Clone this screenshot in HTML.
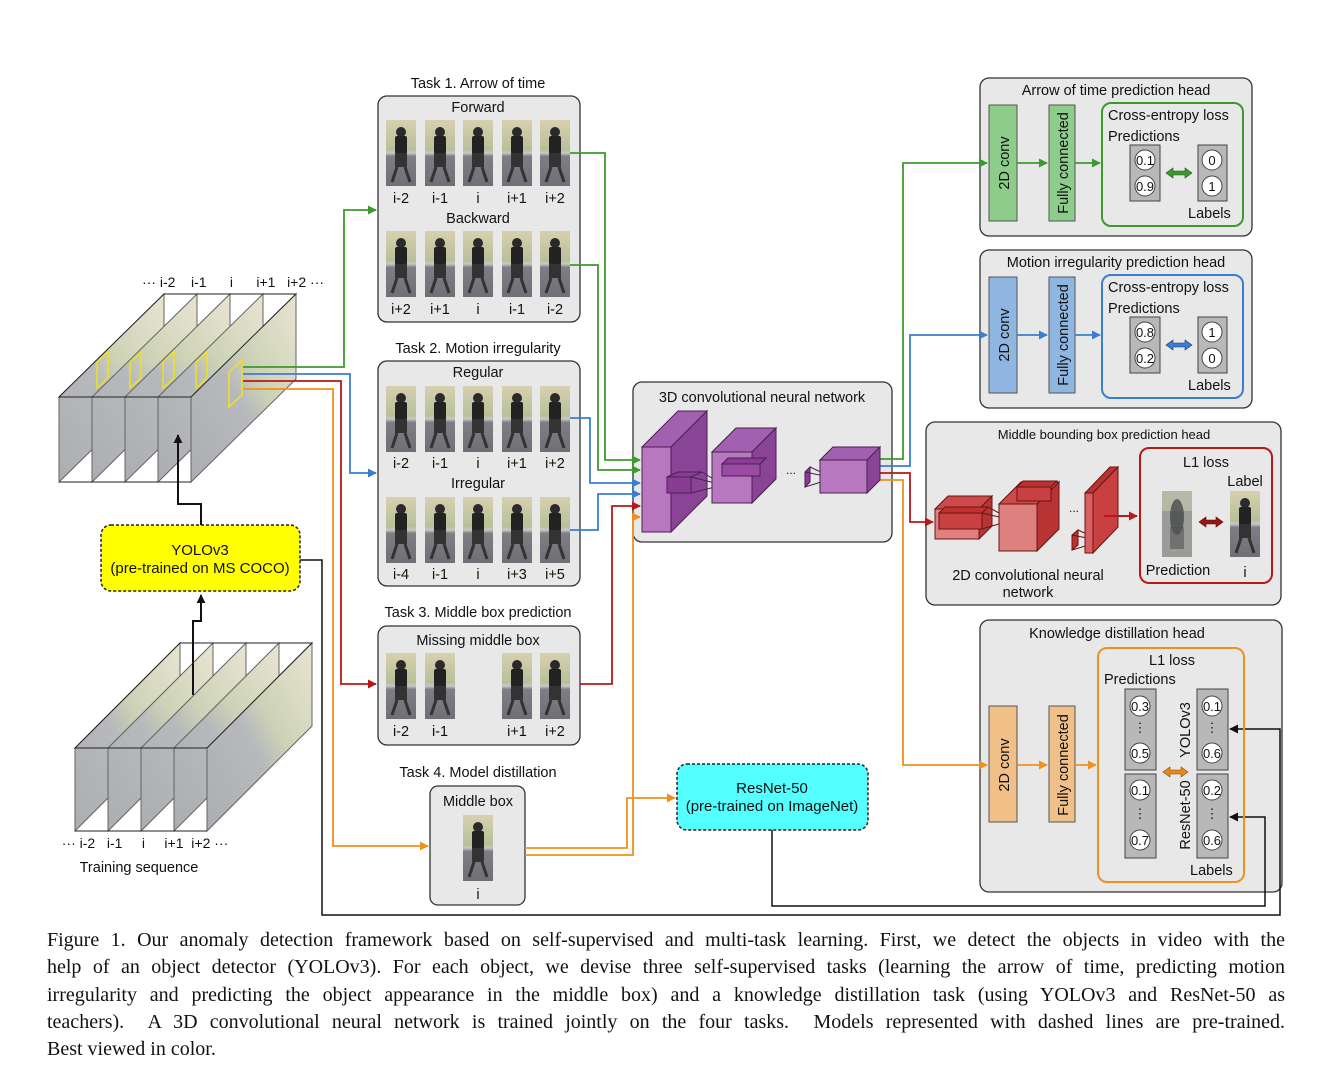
<!DOCTYPE html>
<html><head><meta charset="utf-8"><style>
body{margin:0;background:#fff}
svg{display:block}
text{font-family:"Liberation Sans",sans-serif;fill:#111}
.cap{font-family:"Liberation Serif",serif;font-size:20px;position:absolute;left:47px;width:1238px;line-height:27.3px;color:#111;white-space:nowrap}
.cap div{text-align:justify;text-align-last:justify;white-space:normal}
.cap div.l{text-align-last:left}
</style></head><body>
<div style="position:relative;width:1318px;height:1068px;overflow:hidden">
<svg width="1318" height="1068" viewBox="0 0 1318 1068">
<defs>
<linearGradient id="fg" x1="0" y1="0" x2="0" y2="1">
<stop offset="0" stop-color="#d8d0b0"/><stop offset="0.45" stop-color="#b8c098"/><stop offset="0.5" stop-color="#c8c8c8"/><stop offset="0.55" stop-color="#7d7f85"/><stop offset="1" stop-color="#6e7076"/></linearGradient>
<g id="fr"><rect width="30" height="66" fill="url(#fg)"/><circle cx="15" cy="12" r="5" fill="#2a2a2a"/><rect x="9" y="16" width="12" height="18" rx="2" fill="#222"/><rect x="9" y="33" width="12" height="14" fill="#333"/><path d="M11 47 L6 62 M19 47 L24 62" stroke="#333" stroke-width="3"/></g>
<g id="frb"><rect width="30" height="66" fill="#9a9c98"/><rect width="30" height="20" fill="#b8b8a8"/><ellipse cx="15" cy="26" rx="7" ry="18" fill="#3a3c40" opacity="0.7"/><rect x="8" y="36" width="14" height="22" fill="#555" opacity="0.6"/></g>
<linearGradient id="sg" x1="0" y1="1" x2="1" y2="0"><stop offset="0" stop-color="#8a8c92"/><stop offset="0.45" stop-color="#9a9ca0"/><stop offset="0.6" stop-color="#b8c098"/><stop offset="1" stop-color="#e0dac0"/></linearGradient>
<marker id="aG" viewBox="0 0 10 10" refX="9" refY="5" markerWidth="9" markerHeight="9" markerUnits="userSpaceOnUse" orient="auto"><path d="M0 0L10 5L0 10z" fill="#3c9a2c"/></marker>
<marker id="aB" viewBox="0 0 10 10" refX="9" refY="5" markerWidth="9" markerHeight="9" markerUnits="userSpaceOnUse" orient="auto"><path d="M0 0L10 5L0 10z" fill="#3a7fcf"/></marker>
<marker id="aR" viewBox="0 0 10 10" refX="9" refY="5" markerWidth="9" markerHeight="9" markerUnits="userSpaceOnUse" orient="auto"><path d="M0 0L10 5L0 10z" fill="#b81818"/></marker>
<marker id="aO" viewBox="0 0 10 10" refX="9" refY="5" markerWidth="9" markerHeight="9" markerUnits="userSpaceOnUse" orient="auto"><path d="M0 0L10 5L0 10z" fill="#f0901e"/></marker>
<marker id="aK" viewBox="0 0 10 10" refX="9" refY="5" markerWidth="9" markerHeight="9" markerUnits="userSpaceOnUse" orient="auto"><path d="M0 0L10 5L0 10z" fill="#111"/></marker>
</defs>

<!-- top stack -->
<g stroke="#222" stroke-width="1">
<polygon points="59,397 164,294 296,294 191,397" fill="none"/>
<g fill="url(#sg)" opacity="0.7">
<polygon points="59,397 164,294 164,379 59,482"/>
<polygon points="92,397 197,294 197,379 92,482"/>
<polygon points="125,397 230,294 230,379 125,482"/>
<polygon points="158,397 263,294 263,379 158,482"/>
<polygon points="191,397 296,294 296,379 191,482"/>
</g>
<line x1="59" y1="397" x2="191" y2="397"/><line x1="59" y1="482" x2="191" y2="482"/>
<line x1="164" y1="294" x2="296" y2="294"/>
</g>
<g fill="none" stroke="#f0e020" stroke-width="1.5">
<polygon points="97,362 108,352 108,378 97,388"/><polygon points="130,362 141,352 141,378 130,388"/><polygon points="163,362 174,352 174,378 163,388"/><polygon points="196,362 207,352 207,378 196,388"/><polygon points="229,372 242,360 242,395 229,407"/>
</g>
<text x="233" y="287" font-size="14" text-anchor="middle">··· i-2&#160;&#160;&#160; i-1&#160;&#160;&#160;&#160;&#160; i&#160;&#160;&#160;&#160;&#160; i+1&#160;&#160; i+2 ···</text>

<!-- bottom stack -->
<g stroke="#222" stroke-width="1">
<polygon points="75,748 180,643 312,643 207,748" fill="none"/>
<g fill="url(#sg)" opacity="0.7">
<polygon points="75,748 180,643 180,726 75,831"/>
<polygon points="108,748 213,643 213,726 108,831"/>
<polygon points="141,748 246,643 246,726 141,831"/>
<polygon points="174,748 279,643 279,726 174,831"/>
<polygon points="207,748 312,643 312,726 207,831"/>
</g>
<line x1="75" y1="748" x2="207" y2="748"/><line x1="75" y1="831" x2="207" y2="831"/>
<line x1="180" y1="643" x2="312" y2="643"/>
</g>
<text x="145" y="848" font-size="14" text-anchor="middle">··· i-2&#160;&#160; i-1&#160;&#160;&#160;&#160; i&#160;&#160;&#160;&#160; i+1&#160; i+2 ···</text>
<text x="139" y="872" font-size="14.5" text-anchor="middle">Training sequence</text>

<!-- yolo -->
<rect x="101" y="525" width="199" height="66" rx="10" fill="#ffff00" stroke="#222" stroke-width="1.5" stroke-dasharray="3,2"/>
<text x="200" y="555" font-size="15" text-anchor="middle">YOLOv3</text>
<text x="200" y="573" font-size="15" text-anchor="middle">(pre-trained on MS COCO)</text>
<path d="M193 695 V621 H201 V595" fill="none" stroke="#111" stroke-width="2" marker-end="url(#aK)"/>
<path d="M201 525 V504 H178 V435" fill="none" stroke="#111" stroke-width="2" marker-end="url(#aK)"/>

<!-- resnet -->
<rect x="677" y="764" width="191" height="66" rx="10" fill="#55ffff" stroke="#222" stroke-width="1.5" stroke-dasharray="3,2"/>
<text x="772" y="793" font-size="15" text-anchor="middle">ResNet-50</text>
<text x="772" y="811" font-size="15" text-anchor="middle">(pre-trained on ImageNet)</text>

<!-- task boxes -->
<g font-size="14.5" text-anchor="middle">
<text x="478" y="88">Task 1. Arrow of time</text>
<text x="478" y="353">Task 2. Motion irregularity</text>
<text x="478" y="617">Task 3. Middle box prediction</text>
<text x="478" y="777">Task 4. Model distillation</text>
</g>
<g fill="#e8e8e8" stroke="#333" stroke-width="1.3">
<rect x="378" y="96" width="202" height="226" rx="9"/>
<rect x="378" y="361" width="202" height="225" rx="9"/>
<rect x="378" y="626" width="202" height="119" rx="9"/>
<rect x="430" y="786" width="95" height="119" rx="8"/>
<rect x="633" y="382" width="259" height="160" rx="9"/>
<rect x="980" y="78" width="272" height="158" rx="9"/>
<rect x="980" y="250" width="272" height="158" rx="9"/>
<rect x="926" y="422" width="355" height="183" rx="9"/>
<rect x="980" y="620" width="302" height="272" rx="9"/>
</g>
<path d="M300 560 H322 V915 H1280 V729 H1230" fill="none" stroke="#111" stroke-width="1.5" marker-end="url(#aK)"/>
<path d="M772 830 V906 H1265 V817 H1230" fill="none" stroke="#111" stroke-width="1.5" marker-end="url(#aK)"/>
<g font-size="14.5" text-anchor="middle">
<text x="478" y="112">Forward</text><text x="478" y="223">Backward</text>
<text x="478" y="377">Regular</text><text x="478" y="488">Irregular</text>
<text x="478" y="645">Missing middle box</text><text x="478" y="806">Middle box</text>
</g>
<g>
<use href="#fr" x="386" y="120"/><use href="#fr" x="425" y="120"/><use href="#fr" x="463" y="120"/><use href="#fr" x="502" y="120"/><use href="#fr" x="540" y="120"/>
<use href="#fr" x="386" y="231"/><use href="#fr" x="425" y="231"/><use href="#fr" x="463" y="231"/><use href="#fr" x="502" y="231"/><use href="#fr" x="540" y="231"/>
<use href="#fr" x="386" y="386"/><use href="#fr" x="425" y="386"/><use href="#fr" x="463" y="386"/><use href="#fr" x="502" y="386"/><use href="#fr" x="540" y="386"/>
<use href="#fr" x="386" y="497"/><use href="#fr" x="425" y="497"/><use href="#fr" x="463" y="497"/><use href="#fr" x="502" y="497"/><use href="#fr" x="540" y="497"/>
<use href="#fr" x="386" y="653"/><use href="#fr" x="425" y="653"/><use href="#fr" x="502" y="653"/><use href="#fr" x="540" y="653"/>
<use href="#fr" x="463" y="815"/>
<use href="#frb" x="1162" y="491"/><use href="#fr" x="1230" y="491"/>
</g>
<g font-size="14.5" text-anchor="middle">
<text x="401" y="203">i-2</text><text x="440" y="203">i-1</text><text x="478" y="203">i</text><text x="517" y="203">i+1</text><text x="555" y="203">i+2</text>
<text x="401" y="314">i+2</text><text x="440" y="314">i+1</text><text x="478" y="314">i</text><text x="517" y="314">i-1</text><text x="555" y="314">i-2</text>
<text x="401" y="468">i-2</text><text x="440" y="468">i-1</text><text x="478" y="468">i</text><text x="517" y="468">i+1</text><text x="555" y="468">i+2</text>
<text x="401" y="579">i-4</text><text x="440" y="579">i-1</text><text x="478" y="579">i</text><text x="517" y="579">i+3</text><text x="555" y="579">i+5</text>
<text x="401" y="736">i-2</text><text x="440" y="736">i-1</text><text x="517" y="736">i+1</text><text x="555" y="736">i+2</text>
<text x="478" y="899">i</text>
</g>

<!-- connectors -->
<g fill="none" stroke-width="1.8">
<path d="M243 367 H344 V210 H376" stroke="#3c9a2c" marker-end="url(#aG)"/>
<path d="M243 374 H350 V473 H376" stroke="#3a7fcf" marker-end="url(#aB)"/>
<path d="M243 381 H341 V684 H376" stroke="#b81818" marker-end="url(#aR)"/>
<path d="M243 389 H333 V846 H428" stroke="#f0901e" marker-end="url(#aO)"/>
<path d="M570 153 H605 V460 H640" stroke="#3c9a2c" marker-end="url(#aG)"/>
<path d="M570 265 H598 V470 H640" stroke="#3c9a2c" marker-end="url(#aG)"/>
<path d="M570 418 H590 V483 H640" stroke="#3a7fcf" marker-end="url(#aB)"/>
<path d="M570 530 H598 V494 H640" stroke="#3a7fcf" marker-end="url(#aB)"/>
<path d="M580 684 H612 V506 H640" stroke="#b81818" marker-end="url(#aR)"/>
<path d="M525 855 H633 V517 H640" stroke="#f0901e" marker-end="url(#aO)"/>
<path d="M525 848 H627 V798 H675" stroke="#f0901e" marker-end="url(#aO)"/>
<path d="M876 459 H903 V163 H987" stroke="#3c9a2c" marker-end="url(#aG)"/>
<path d="M876 466 H910 V335 H987" stroke="#3a7fcf" marker-end="url(#aB)"/>
<path d="M876 473 H910 V522 H933" stroke="#b81818" marker-end="url(#aR)"/>
<path d="M876 480 H903 V765 H987" stroke="#f0901e" marker-end="url(#aO)"/>
</g>

<!-- 3D cnn -->
<text x="762" y="402" font-size="14.5" text-anchor="middle">3D convolutional neural network</text>
<g stroke="#4a2050" stroke-width="1">
<polygon points="642,447 678,411 707,411 671,447" fill="#a460b0"/>
<polygon points="671,447 707,411 707,496 671,532" fill="#8a4496"/>
<rect x="642" y="447" width="29" height="85" fill="#b878c0"/>
<polygon points="667,477 678,472 702,472 691,477" fill="#8a3c94"/>
<rect x="667" y="477" width="24" height="16" fill="#8a3c94"/>
<path d="M691 477 L723 485 M691 493 L723 485 M702 472 L723 485" fill="none"/>
<polygon points="712,452 736,428 776,428 752,452" fill="#a460b0"/>
<polygon points="752,452 776,428 776,479 752,503" fill="#8a4496"/>
<rect x="712" y="452" width="40" height="51" fill="#b878c0"/>
<polygon points="722,464 728,458 766,458 760,464" fill="#8a3c94"/><rect x="722" y="464" width="38" height="12" fill="#9a4ca4"/>
<text x="791" y="474" font-size="12" text-anchor="middle" stroke="none">...</text>
<polygon points="805,472 810,467 810,482 805,487" fill="#8a3c94"/>
<path d="M805 472 L834 478 M805 487 L834 478 M810 467 L834 478" fill="none"/>
<polygon points="820,460 833,447 880,447 867,460" fill="#a460b0"/>
<polygon points="867,460 880,447 880,480 867,493" fill="#8a4496"/>
<rect x="820" y="460" width="47" height="33" fill="#b878c0"/>
</g>

<!-- arrow of time head -->
<g font-size="14.5" text-anchor="middle"><text x="1116" y="95">Arrow of time prediction head</text><text x="1116" y="267">Motion irregularity prediction head</text></g>
<g>
<rect x="989" y="105" width="28" height="116" fill="#8dcc8a" stroke="#555"/>
<rect x="1049" y="105" width="26" height="116" fill="#8dcc8a" stroke="#555"/>
<rect x="1102" y="103" width="141" height="123" rx="9" fill="none" stroke="#3c9a2c" stroke-width="2"/>
<rect x="989" y="277" width="28" height="116" fill="#8fb6e0" stroke="#555"/>
<rect x="1049" y="277" width="26" height="116" fill="#8fb6e0" stroke="#555"/>
<rect x="1102" y="275" width="141" height="123" rx="9" fill="none" stroke="#3a7fcf" stroke-width="2"/>
</g>
<g fill="none" stroke-width="1.8">
<path d="M1017 163 H1047" stroke="#3c9a2c" marker-end="url(#aG)"/><path d="M1075 163 H1100" stroke="#3c9a2c" marker-end="url(#aG)"/>
<path d="M1017 335 H1047" stroke="#3a7fcf" marker-end="url(#aB)"/><path d="M1075 335 H1100" stroke="#3a7fcf" marker-end="url(#aB)"/>
</g>
<g font-size="14.5">
<text x="1009" y="163" transform="rotate(-90 1009 163)" text-anchor="middle">2D conv</text>
<text x="1068" y="163" transform="rotate(-90 1068 163)" text-anchor="middle">Fully connected</text>
<text x="1009" y="335" transform="rotate(-90 1009 335)" text-anchor="middle">2D conv</text>
<text x="1068" y="335" transform="rotate(-90 1068 335)" text-anchor="middle">Fully connected</text>
<text x="1108" y="120">Cross-entropy loss</text><text x="1108" y="141">Predictions</text><text x="1188" y="218">Labels</text>
<text x="1108" y="292">Cross-entropy loss</text><text x="1108" y="313">Predictions</text><text x="1188" y="390">Labels</text>
</g>
<g stroke="#444" stroke-width="1">
<rect x="1130" y="145" width="30" height="56" fill="#b8b8b8"/><rect x="1198" y="145" width="29" height="56" fill="#b8b8b8"/>
<rect x="1130" y="317" width="30" height="56" fill="#b8b8b8"/><rect x="1198" y="317" width="29" height="56" fill="#b8b8b8"/>
<g fill="#fff"><circle cx="1145" cy="160" r="10"/><circle cx="1145" cy="186" r="10"/><circle cx="1212" cy="160" r="10"/><circle cx="1212" cy="186" r="10"/>
<circle cx="1145" cy="332" r="10"/><circle cx="1145" cy="358" r="10"/><circle cx="1212" cy="332" r="10"/><circle cx="1212" cy="358" r="10"/></g>
</g>
<g font-size="13" text-anchor="middle">
<text x="1145" y="165">0.1</text><text x="1145" y="191">0.9</text><text x="1212" y="165">0</text><text x="1212" y="191">1</text>
<text x="1145" y="337">0.8</text><text x="1145" y="363">0.2</text><text x="1212" y="337">1</text><text x="1212" y="363">0</text>
</g>
<path d="M1166 173 l7 -5 v3 h12 v-3 l7 5 l-7 5 v-3 h-12 v3z" fill="#3c9a2c" stroke="#1e5a14" stroke-width="0.6"/>
<path d="M1166 345 l7 -5 v3 h12 v-3 l7 5 l-7 5 v-3 h-12 v3z" fill="#3a7fcf" stroke="#1a3e6a" stroke-width="0.6"/>

<!-- middle bbox head -->
<text x="1104" y="439" font-size="13" text-anchor="middle">Middle bounding box prediction head</text>
<g stroke="#6a1414" stroke-width="1">
<polygon points="935,509 948,496 992,496 979,509" fill="#cc4a4a"/><polygon points="979,509 992,496 992,526 979,539" fill="#b83434"/><rect x="935" y="509" width="44" height="30" fill="#de8080"/>
<polygon points="939,513 945,507 988,507 982,513" fill="#c03030"/><rect x="939" y="513" width="43" height="16" fill="#c84040"/>
<path d="M982 513 L1012 520 M982 529 L1012 520 M988 507 L1012 520" fill="none"/>
<polygon points="999,504 1021,482 1059,482 1037,504" fill="#cc4a4a"/><polygon points="1037,504 1059,482 1059,529 1037,551" fill="#b83434"/><rect x="999" y="504" width="38" height="47" fill="#de8080"/>
<polygon points="1017,487 1023,481 1057,481 1051,487" fill="#c03030"/><rect x="1017" y="487" width="34" height="14" fill="#c84040"/>
<text x="1074" y="512" font-size="12" text-anchor="middle" stroke="none">...</text>
<polygon points="1072,535 1078,530 1078,545 1072,550" fill="#b83434"/>
<path d="M1072 535 L1102 541 M1072 550 L1102 541 M1078 530 L1102 541" fill="none"/>
<polygon points="1085,493 1110,467 1118,467 1093,493" fill="#b83434"/>
<polygon points="1093,493 1118,467 1118,527 1093,553" fill="#c84040"/>
<rect x="1085" y="493" width="8" height="60" fill="#d86060"/>
</g>
<path d="M1104 516 H1137" stroke="#b81818" stroke-width="2" marker-end="url(#aR)" fill="none"/>
<rect x="1140" y="448" width="132" height="135" rx="9" fill="none" stroke="#b81818" stroke-width="2"/>
<g font-size="14.5" text-anchor="middle">
<text x="1206" y="467">L1 loss</text><text x="1245" y="486">Label</text><text x="1178" y="575">Prediction</text><text x="1245" y="577">i</text>
<text x="1028" y="580">2D convolutional neural</text><text x="1028" y="597">network</text>
</g>
<path d="M1199 522 l7 -5 v3 h10 v-3 l7 5 l-7 5 v-3 h-10 v3z" fill="#9a1414" stroke="#5a0a0a" stroke-width="0.6"/>

<!-- KD head -->
<text x="1117" y="638" font-size="14.5" text-anchor="middle">Knowledge distillation head</text>
<rect x="989" y="706" width="28" height="116" fill="#f0c088" stroke="#555"/>
<rect x="1049" y="706" width="26" height="116" fill="#f0c088" stroke="#555"/>
<rect x="1098" y="648" width="146" height="234" rx="9" fill="none" stroke="#f0901e" stroke-width="2"/>
<g fill="none" stroke-width="1.8"><path d="M1017 765 H1047" stroke="#f0901e" marker-end="url(#aO)"/><path d="M1075 765 H1096" stroke="#f0901e" marker-end="url(#aO)"/></g>
<g font-size="14.5">
<text x="1009" y="765" transform="rotate(-90 1009 765)" text-anchor="middle">2D conv</text>
<text x="1068" y="765" transform="rotate(-90 1068 765)" text-anchor="middle">Fully connected</text>
<text x="1172" y="665" text-anchor="middle">L1 loss</text><text x="1104" y="684">Predictions</text><text x="1190" y="875">Labels</text>
<text x="1190" y="730" transform="rotate(-90 1190 730)" text-anchor="middle">YOLOv3</text>
<text x="1190" y="815" transform="rotate(-90 1190 815)" text-anchor="middle">ResNet-50</text>
</g>
<g stroke="#444" stroke-width="1">
<rect x="1125" y="689" width="31" height="81" fill="#b8b8b8"/><rect x="1125" y="774" width="31" height="84" fill="#b8b8b8"/>
<rect x="1197" y="689" width="31" height="81" fill="#b8b8b8"/><rect x="1197" y="774" width="31" height="84" fill="#b8b8b8"/>
<g fill="#fff"><circle cx="1140" cy="706" r="10"/><circle cx="1140" cy="753" r="10"/><circle cx="1140" cy="790" r="10"/><circle cx="1140" cy="840" r="10"/>
<circle cx="1212" cy="706" r="10"/><circle cx="1212" cy="753" r="10"/><circle cx="1212" cy="790" r="10"/><circle cx="1212" cy="840" r="10"/></g>
</g>
<g font-size="13" text-anchor="middle">
<text x="1140" y="711">0.3</text><text x="1140" y="758">0.5</text><text x="1140" y="795">0.1</text><text x="1140" y="845">0.7</text>
<text x="1212" y="711">0.1</text><text x="1212" y="758">0.6</text><text x="1212" y="795">0.2</text><text x="1212" y="845">0.6</text>
<text x="1140" y="732">⋮</text><text x="1140" y="818">⋮</text><text x="1212" y="732">⋮</text><text x="1212" y="818">⋮</text>
</g>
<path d="M1163 772 l7 -5 v3 h11 v-3 l7 5 l-7 5 v-3 h-11 v3z" fill="#e88a1a" stroke="#8a4a0a" stroke-width="0.6"/>
</svg>
<div class="cap" style="top:927px">
<div>Figure 1. Our anomaly detection framework based on self-supervised and multi-task learning. First, we detect the objects in video with the</div>
<div>help of an object detector (YOLOv3). For each object, we devise three self-supervised tasks (learning the arrow of time, predicting motion</div>
<div>irregularity and predicting the object appearance in the middle box) and a knowledge distillation task (using YOLOv3 and ResNet-50 as</div>
<div>teachers).&#160; A 3D convolutional neural network is trained jointly on the four tasks.&#160; Models represented with dashed lines are pre-trained.</div>
<div class="l">Best viewed in color.</div>
</div>
</div>
</body></html>
